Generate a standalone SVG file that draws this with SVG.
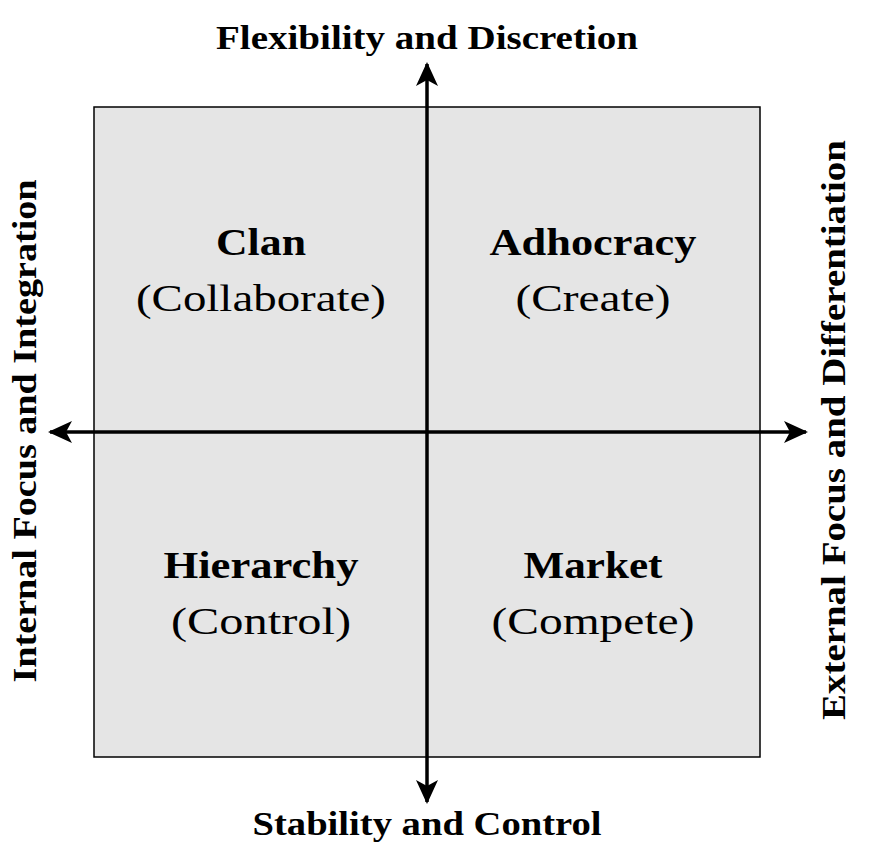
<svg xmlns="http://www.w3.org/2000/svg" width="870" height="864" viewBox="0 0 870 864">
<style>
text{font-family:"Liberation Serif",serif;fill:#000;text-anchor:middle}
.t{font-size:38px;font-weight:bold}
.s{font-size:38px}
.a{font-size:33px;font-weight:bold}
.ax{stroke:#000;stroke-width:3.5;fill:none}
</style>
<defs>
<marker id="ar" viewBox="0 0 24 22" refX="22" refY="11" markerWidth="24" markerHeight="22" markerUnits="userSpaceOnUse" orient="auto">
<path d="M0,0 L24,11 L0,22 L6,11 Z" fill="#000"/>
</marker>
</defs>
<rect x="94" y="107" width="666" height="650" fill="#e5e5e5" stroke="#000" stroke-width="1.5"/>
<g id="clan"><text class="t" x="261" y="255" textLength="90" lengthAdjust="spacingAndGlyphs">Clan</text><text class="s" x="261" y="311" textLength="250" lengthAdjust="spacingAndGlyphs">(Collaborate)</text></g>
<g id="adhocracy"><text class="t" x="593" y="255" textLength="207" lengthAdjust="spacingAndGlyphs">Adhocracy</text><text class="s" x="593" y="311" textLength="155" lengthAdjust="spacingAndGlyphs">(Create)</text></g>
<g id="hierarchy"><text class="t" x="261" y="578" textLength="195" lengthAdjust="spacingAndGlyphs">Hierarchy</text><text class="s" x="261" y="634" textLength="180" lengthAdjust="spacingAndGlyphs">(Control)</text></g>
<g id="market"><text class="t" x="593" y="578" textLength="139" lengthAdjust="spacingAndGlyphs">Market</text><text class="s" x="593" y="634" textLength="203" lengthAdjust="spacingAndGlyphs">(Compete)</text></g>
<g id="connectors">
<line class="ax" x1="427" y1="432" x2="427" y2="64" marker-end="url(#ar)"/>
<line class="ax" x1="427" y1="432" x2="427" y2="802" marker-end="url(#ar)"/>
<line class="ax" x1="427" y1="432" x2="50" y2="432" marker-end="url(#ar)"/>
<line class="ax" x1="427" y1="432" x2="806" y2="432" marker-end="url(#ar)"/>
</g>
<g id="labels">
<text class="a" x="427" y="49" textLength="422" lengthAdjust="spacingAndGlyphs">Flexibility and Discretion</text>
<text class="a" x="427" y="835" textLength="349" lengthAdjust="spacingAndGlyphs">Stability and Control</text>
<text class="a" transform="translate(36,431) rotate(-90)" textLength="503" lengthAdjust="spacingAndGlyphs">Internal Focus and Integration</text>
<text class="a" transform="translate(845,430) rotate(-90)" textLength="580" lengthAdjust="spacingAndGlyphs">External Focus and Differentiation</text>
</g>
</svg>
